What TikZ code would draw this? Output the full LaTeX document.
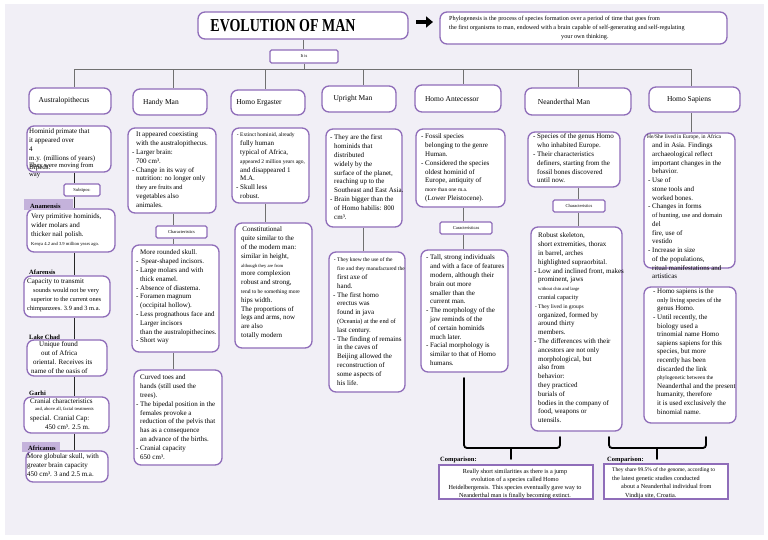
\documentclass[tikz,border=0pt]{standalone}
\usepackage{fontspec}
\setmainfont{Liberation Serif}
\usepackage{graphicx}
\usetikzlibrary{arrows.meta}
\definecolor{bgc}{HTML}{F1EFF6}
\definecolor{pur}{HTML}{8F6DB9}
\definecolor{lbl}{HTML}{C4B2DB}
\definecolor{lnc}{HTML}{707070}
\newcommand\fsA[1]{{\fontsize{5.5}{8.8}\selectfont #1}}
\newcommand\fsB[1]{{\fontsize{6.4}{8.8}\selectfont #1}}
\newcommand\fsC[1]{{\fontsize{4.6}{8.8}\selectfont #1}}
\newcommand\bx[6][box]{\node[#1,minimum width={#4-#2},minimum height={#5-#3}] (#6) at ({(#2+#4)/2},{(#3+#5)/2}) {};}
\newcommand\tx[5][]{\node[txt,#1] (#2) at (#3,{#4-4.5}) {\strut #5};}
\tikzset{
  box/.style={draw=pur,line width=1.3pt,fill=white,rounded corners=7pt,inner sep=0pt},
  sbox/.style={draw=pur,line width=1.1pt,fill=white,rounded corners=1.5pt,inner sep=0pt},
  rbox/.style={draw=pur,line width=1.2pt,fill=white,inner sep=0pt},
  lfill/.style={fill=lbl,inner sep=0pt},
  txt/.style={anchor=north west,inner sep=0pt,align=left,font=\fontsize{7}{8.8}\selectfont},
  hd/.style={inner sep=0pt,font=\fontsize{7.5}{9}\selectfont},
  mini/.style={inner sep=0pt,font=\fontsize{4.5}{5}\selectfont},
  conn/.style={draw=lnc,line width=1pt},
  dconn/.style={draw=black!85,line width=1pt},
  brace/.style={draw=black,line width=1.8pt,rounded corners=3pt,line cap=round},
  lab/.style={anchor=base west,inner sep=0pt,font=\fontsize{6.5}{8}\selectfont\bfseries},
}
\begin{document}
\begin{tikzpicture}[x=1pt,y=-1pt]
\useasboundingbox (0,0) rectangle (768,539);
\fill[white] (0,0) rectangle (768,539);
\fill[bgc] (5,4) rectangle (764,535);

% title
\bx{198}{12}{408}{39}{title}
\node[inner sep=0pt] (titlet) at (283,26) {\scalebox{1}[1.3]{\fontsize{14}{16}\selectfont\bfseries EVOLUTION OF MAN}};
\coordinate (arrA) at (416,22);
\coordinate (arrB) at (433,22);
\draw[line width=4pt,-{Triangle[length=7pt,width=11pt]}] (arrA) -- (arrB);
\bx{440}{12}{727}{44}{phylo}
\tx[font=\fontsize{6.2}{9.2}\selectfont]{phylot}{449}{18}{Phylogenesis is the process of species formation over a period of time that goes from\\ the first organisms to man, endowed with a brain capable of self-generating and self-regulating\\ \hspace*{112pt}your own thinking.}

\bx[sbox]{270}{50}{338}{63}{itis}
\node[mini] (itist) at (itis) {It is};
\draw[conn] (title.south) -- (title.south |- itis.north);
\coordinate (bar) at (303,69);
\draw[conn] (itis.south) -- (itis.south |- bar);

% headers
\bx{29}{88}{111}{114}{h1}
\bx{133}{89}{207}{115}{h2}
\bx{231}{90}{305}{115}{h3}
\bx{322}{86}{396}{112}{h4}
\bx{415}{85}{501}{112}{h5}
\bx{525}{88}{631}{115}{h6}
\bx{649}{87}{740}{112}{h7}
\node[hd] (h1t) at (64,101) {Australopithecus};
\node[hd] (h2t) at (161,103) {Handy Man};
\node[hd] (h3t) at (259,103) {Homo Ergaster};
\node[hd] (h4t) at (353,99) {Upright Man};
\node[hd] (h5t) at (452,99) {Homo Antecessor};
\node[hd] (h6t) at (564,102) {Neanderthal Man};
\node[hd] (h7t) at (689,100) {Homo Sapiens};

\coordinate (ca) at (74,69);
\coordinate (cb) at (173,69);
\coordinate (cc) at (265,69);
\coordinate (cd) at (363,69);
\coordinate (ce) at (463,69);
\coordinate (cg) at (578,69);
\coordinate (ch) at (691,69);
\draw[conn] (ca) -- (ch);
\foreach \h/\c in {h1/ca,h2/cb,h3/cc,h4/cd,h5/ce,h6/cg,h7/ch}
  \draw[conn] (\c) -- (\h.north -| \c);

% Australopithecus column
\bx{27}{126}{111}{172}{a1}
\tx{a1t}{29}{132}{Hominid primate that\\ it appeared over\\ 4\\ m.y. (millions of years)\\ Bipeds:}
\tx[font=\fontsize{6.6}{8.8}\selectfont]{a1u}{29}{166}{They were moving from\\ way}
\bx[sbox]{64}{184}{100}{196}{sub}
\node[mini] (subt) at (sub) {Subtipos:};
\bx{27}{209}{115}{252}{a2}
\bx[lfill]{24}{199}{73}{210}{anl}
\node[lab] (ant) at (30,208) {Anamensis};
\tx{a2t}{31}{217}{Very primitive hominids,\\ wider molars and\\ thicker nail polish.\\ \fsC{Kenya 4.2 and 3.9 million years ago.}}
\node[lab] (afl) at (29,274) {Afarensis};
\bx{24}{276}{110}{317}{a3}
\tx{a3t}{27}{282}{Capacity to transmit\\ \hspace*{6pt}\fsB{sounds would not be very}\\ \hspace*{4pt}\fsB{superior to the current ones}\\ \fsB{chimpanzees. 3.9 and 3 m.a.}}
\node[lab] (lcl) at (29,339) {Lake Chad};
\bx{27}{340}{107}{376}{a4}
\tx{a4t}{31}{345}{\hspace*{8pt}Unique found\\ \hspace*{10pt}out of Africa\\ \hspace*{2pt}oriental. Receives its\\ name of the oasis of}
\node[lab] (gal) at (29,395) {Garhi};
\bx{24}{397}{109}{433}{a5}
\tx{a5t}{30}{402}{Cranial characteristics\\[-2pt] \hspace*{5pt}\fsC{and, above all, facial treatments}\\[1pt] special. Cranial Cap:\\ \hspace*{15pt}450 cm³. 2.5 m.}
\bx{26}{451}{108}{482}{a6}
\bx[lfill]{22}{442}{60}{452}{afl2}
\node[lab] (aft) at (28,450) {Africanus};
\tx{a6t}{27}{457}{More globular skull, with\\ greater brain capacity\\ 450 cm³. 3 and 2.5 m.a.}
\draw[dconn] (a1.south -| ca) -- (sub.north -| ca);
\draw[dconn] (sub.south -| ca) -- (a2.north -| ca);
\draw[dconn] (a2.south -| ca) -- (a3.north -| ca);
\draw[dconn] (a3.south -| ca) -- (a4.north -| ca);
\draw[dconn] (a4.south -| ca) -- (a5.north -| ca);
\draw[dconn] (a5.south -| ca) -- (a6.north -| ca);

% Handy Man
\bx{128}{128}{216}{213}{b1}
\tx{b1t}{136}{135}{It appeared coexisting\\ with the australopithecus.\\ \llap{- }Larger brain:\\ 700 cm³.\\ \llap{- }Change in its way of\\ nutrition: no longer only\\ \fsB{they are fruits and}\\ vegetables also\\ animales.}
\bx[sbox]{156}{226}{207}{238}{ch1}
\node[mini] (ch1t) at (ch1) {Characteristics};
\bx{132}{245}{219}{352}{b2}
\tx{b2t}{140}{253}{More rounded skull.\\ \llap{- }\,Spear-shaped incisors.\\ \llap{- }Large molars and with\\ thick enamel.\\ \llap{- }Absence of diastema.\\ \llap{- }Foramen magnum\\ (occipital hollow).\\ \llap{- }Less prognathous face and\\ Larger incisors\\ than the australopithecines.\\ \llap{- }Short way}
\bx{134}{370}{222}{465}{b3}
\tx{b3t}{140}{378}{Curved toes and\\ hands (still used the\\ trees).\\ \llap{- }The bipedal position in the\\ females provoke a\\ reduction of the pelvis that\\ has as a consequence\\ an advance of the births.\\ \llap{- }Cranial capacity\\ 650 cm³.}
\draw[conn] (b1.south -| cb) -- (ch1.north -| cb);
\draw[conn] (ch1.south -| cb) -- (b2.north -| cb);
\draw[conn] (b2.south -| cb) -- (b3.north -| cb);

% Homo Ergaster
\bx{232}{128}{309}{203}{c1}
\tx{c1t}{240}{135}{\llap{\fsA{- }}\fsA{Extinct hominid, already}\\ fully human\\ typical of Africa,\\ \fsA{appeared 2 million years ago,}\\ and disappeared 1\\ M.A.\\ \llap{- }Skull less\\ robust.}
\bx{235}{223}{312}{348}{c2}
\tx{c2t}{241}{230}{\,Constitutional\\ quite similar to the\\ of the modern man:\\ similar in height,\\ \fsC{although they are from}\\ more complexion\\ robust and strong,\\ \fsA{tend to be something more}\\ hips width.\\ The proportions of\\ legs and arms, now\\ are also\\ totally modern}
\draw[conn] (c1.south -| cc) -- (c2.north -| cc);

% Upright Man
\bx{326}{129}{402}{227}{d1}
\tx{d1t}{334}{138}{\llap{- }They are the first\\ hominids that\\ distributed\\ widely by the\\ surface of the planet,\\ reaching up to the\\ Southeast and East Asia.\\ \llap{- }Brain bigger than the\\ of Homo habilis: 800\\ cm³.}
\bx{329}{252}{405}{392}{d2}
\tx{d2t}{337}{260}{\llap{\fsA{- }}\fsA{They knew the use of the}\\ \fsA{fire and they manufactured the}\\ first axe of\\ hand.\\ \llap{- }The first homo\\ erectus was\\ found in java\\ \fsB{(Oceania) at the end of}\\ last century.\\ \llap{- }The finding of remains\\ in the caves of\\ Beijing allowed the\\ reconstruction of\\ some aspects of\\ his life.}
\draw[conn] (d1.south -| cd) -- (d2.north -| cd);

% Homo Antecessor
\bx{416}{129}{505}{207}{e1}
\tx{e1t}{425}{137}{\llap{- }Fossil species\\ belonging to the genre\\ Human.\\ \llap{- }Considered the species\\ oldest hominid of\\ Europe, antiquity of\\ \fsA{more than one m.a.}\\ (Lower Pleistocene).}
\bx[sbox]{440}{222}{492}{234}{ch2}
\node[mini] (ch2t) at (ch2) {Características};
\bx{421}{250}{508}{372}{e2}
\tx{e2t}{430}{258}{\llap{- }Tall, strong individuals\\ and with a face of features\\ modern, although their\\ brain out more\\ smaller than the\\ current man.\\ \llap{- }The morphology of the\\ jaw reminds of the\\ of certain hominids\\ much later.\\ \llap{- }Facial morphology is\\ similar to that of Homo\\ humans.}
\draw[conn] (e1.south -| ce) -- (ch2.north -| ce);
\draw[conn] (ch2.south -| ce) -- (e2.north -| ce);

% Neanderthal Man
\bx{528}{132}{620}{187}{g1}
\tx{g1t}{537}{137}{\llap{- }Species of the genus Homo\\ who inhabited Europe.\\ \llap{- }Their characteristics\\ definers, starting from the\\ fossil bones discovered\\ until now.}
\bx[sbox]{553}{200}{605}{212}{ch3}
\node[mini] (ch3t) at (ch3) {Characteristics};
\bx{531}{227}{622}{431}{g2}
\tx{g2t}{538}{236}{Robust skeleton,\\ short extremities, thorax\\ in barrel, arches\\ highlighted supraorbital.\\ \llap{- }Low and inclined front, makes\\ prominent, jaws\\ \fsC{without chin and large}\\ \fsB{cranial capacity}\\ \llap{\fsA{- }}\fsA{They lived in groups}\\ organized, formed by\\ around thirty\\ members.\\ \llap{- }The differences with their\\ ancestors are not only\\ morphological, but\\ also from\\ behavior:\\ they practiced\\ burials of\\ bodies in the company of\\ food, weapons or\\ utensils.}
\draw[conn] (g1.south -| cg) -- (ch3.north -| cg);
\draw[conn] (ch3.south -| cg) -- (g2.north -| cg);

% Homo Sapiens
\bx{644}{133}{735}{268}{s1}
\tx[font=\fontsize{7}{8.75}\selectfont]{s1t}{652}{137}{\hspace*{-5pt}\fsA{He/She lived in Europe, in Africa}\\ and in Asia. Findings\\ archaeological reflect\\ important changes in the\\ behavior.\\ \llap{- }Use of\\ stone tools and\\ worked bones.\\ \llap{- }Changes in forms\\ \fsB{of hunting, use and domain}\\ del\\ fire, use of\\ vestido\\ \llap{- }Increase in size\\ of the populations,\\ ritual manifestations and\\ artisticas}
\bx{644}{287}{736}{423}{s2}
\tx[font=\fontsize{7}{8.6}\selectfont]{s2t}{657}{292}{\llap{- }Homo sapiens is the\\ \fsB{only living species of the}\\ genus Homo.\\ \llap{- }Until recently, the\\ biology used a\\ trinomial name Homo\\ sapiens sapiens for this\\ species, but more\\ recently has been\\ discarded the link\\ \fsA{phylogenetic between the}\\ Neanderthal and the present\\ humanity, therefore\\ it is used exclusively the\\ binomial name.}
\draw[conn] (s1.north -| ch) -- (h7.south -| ch);

% comparison brackets
\coordinate (k1a) at (464,378);
\coordinate (k1b) at (464,448);
\coordinate (k1c) at (560,448);
\coordinate (k1d) at (560,437);
\coordinate (k1m) at (511,448);
\coordinate (k1n) at (511,459);
\draw[brace] (k1a) -- (k1b) -- (k1c) -- (k1d);
\draw[brace] (k1m) -- (k1n);
\coordinate (k2a) at (609,437);
\coordinate (k2b) at (609,448);
\coordinate (k2c) at (706,448);
\coordinate (k2d) at (706,437);
\coordinate (k2m) at (657,448);
\coordinate (k2n) at (657,459);
\draw[brace] (k2a) -- (k2b) -- (k2c) -- (k2d);
\draw[brace] (k2m) -- (k2n);

\node[lab] (cp1) at (440,461) {Comparison:};
\bx[rbox]{439}{465}{593}{499}{f1}
\node[inner sep=0pt,align=center,font=\fontsize{6.2}{8.2}\selectfont] (f1t) at (515,484) {Really short similarities as there is a jump\\ evolution of a species called Homo\\ Heidelbergensis. This species eventually gave way to\\ Neanderthal man is finally becoming extinct.};
\node[lab] (cp2) at (607,461) {Comparison:};
\bx[rbox]{604}{464}{728}{499}{f2}
\tx[font=\fontsize{6.2}{8.5}\selectfont]{f2t}{612}{470}{\fsA{They share 99.5\% of the genome, according to}\\ the latest genetic studies conducted\\ \hspace*{9pt}about a Neanderthal individual from\\ \hspace*{13pt}Vindija site, Croatia.}
\end{tikzpicture}
\end{document}
